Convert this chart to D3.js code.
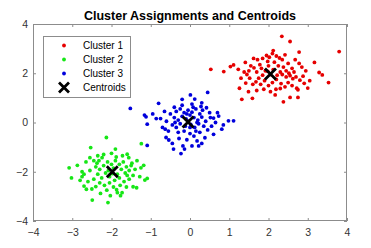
<!DOCTYPE html>
<html lang="en">
<head>
<meta charset="UTF-8">
<title>Cluster Assignments and Centroids</title>
<script src="https://d3js.org/d3.v7.min.js"></script>
<style>
    body { margin: 0; background: #fff; }
    svg { display: block; font-family: "Liberation Sans", Arial, sans-serif; }
    .axis path { display: none; }
    .axis line { stroke: #8c8c8c; }
    .axis text { font-size: 10.5px; fill: #333; }
</style>
</head>
<body>
<script>
// Points of each cluster, [x, y]
const cluster1 = [
    [2.34,3.50],[2.55,3.29],[3.80,2.88],[2.78,2.86],[3.17,2.44],[3.29,2.03],[3.37,1.93],[3.53,1.62],
    [0.53,2.16],[0.86,2.07],[1.03,2.27],[1.11,2.34],[1.23,2.16],[1.41,2.44],[1.26,1.39],[1.32,0.94],
    [1.59,0.98],[1.49,1.25],[2.38,0.84],[2.55,1.02],[2.75,1.02],[2.72,1.39],[2.75,1.33],[2.91,1.59],
    [2.17,1.12],[2.19,1.35],[1.55,2.30],[1.63,2.22],[1.70,2.05],[1.78,2.35],[1.85,2.60],[1.95,2.72],
    [2.02,2.65],[2.10,2.80],[2.20,2.70],[2.28,2.62],[2.35,2.55],[2.42,2.75],[2.50,2.40],[2.60,2.20],
    [2.65,2.05],[2.70,1.85],[2.62,1.78],[2.55,1.90],[2.45,2.10],[2.38,2.25],[2.30,2.05],[2.22,1.92],
    [2.12,2.15],[2.00,2.30],[1.92,2.10],[1.85,1.92],[1.75,1.80],[1.68,1.65],[1.60,1.55],[1.52,1.80],
    [1.45,1.95],[1.38,2.05],[1.30,1.80],[1.42,1.60],[1.80,1.55],[1.90,1.70],[2.00,1.50],[2.10,1.62],
    [2.20,1.75],[2.32,1.58],[2.42,1.45],[2.50,1.62],[2.80,1.72],[2.88,1.88],[2.95,2.10],[2.85,2.25],
    [2.78,2.40],[2.68,2.55],[2.15,2.45],[1.98,2.48],[1.72,2.55],[1.62,2.60],[2.05,1.95],[2.25,2.30],
    [1.88,1.35],[2.05,1.25],[2.30,1.38],[1.70,1.30],[2.60,1.50],[2.45,1.85],[1.50,2.10],[3.05,1.70],
    [3.00,1.40],[2.12,2.92],[1.98,2.08],[2.35,1.95],[2.52,2.00],[1.82,2.20]
];
const cluster2 = [
    [-2.13,-0.61],[-2.53,-1.02],[-1.24,-0.86],[-3.08,-1.84],[-3.02,-2.25],[-2.87,-1.74],[-2.75,-2.20],
    [-2.75,-2.00],[-2.70,-2.58],[-2.64,-2.71],[-2.49,-3.15],[-2.09,-3.25],[-2.03,-2.97],[-1.77,-2.97],
    [-1.73,-2.85],[-1.87,-2.73],[-1.45,-2.61],[-1.36,-2.65],[-1.15,-2.34],[-1.09,-2.27],[-1.18,-1.74],
    [-1.25,-1.84],[-1.60,-1.29],[-1.56,-1.43],[-1.90,-1.08],[-2.24,-1.43],[-2.32,-1.55],[-2.37,-1.65],
    [-2.55,-1.43],[-2.40,-1.80],[-2.30,-1.90],[-2.20,-1.75],[-2.10,-1.60],[-2.00,-1.70],[-1.90,-1.55],
    [-1.80,-1.70],[-1.70,-1.60],[-1.62,-1.80],[-1.55,-1.95],[-1.65,-2.05],[-1.75,-1.90],[-1.85,-2.10],
    [-1.95,-1.85],[-2.05,-2.20],[-2.15,-2.05],[-2.25,-2.25],[-2.35,-2.10],[-2.45,-2.30],[-2.55,-1.95],
    [-2.60,-2.40],[-2.30,-2.45],[-2.18,-2.55],[-2.05,-2.45],[-1.92,-2.35],[-1.80,-2.25],[-1.68,-2.40],
    [-1.55,-2.30],[-1.45,-2.15],[-1.40,-1.90],[-1.48,-1.65],[-1.35,-1.55],[-1.78,-2.55],[-1.95,-2.62],
    [-2.12,-2.75],[-2.40,-2.60],[-2.50,-2.70],[-2.20,-1.30],[-2.00,-1.25],[-1.72,-1.35],[-2.65,-1.60],
    [-2.80,-2.35],[-1.28,-2.20],[-1.62,-2.62],[-2.28,-2.88],[-1.88,-1.40],[-2.45,-1.55],[-1.50,-1.75],
    [-2.08,-1.95],[-1.98,-2.08],[-1.85,-2.85],[-2.35,-1.35],[-1.60,-2.15],[-2.70,-2.10]
];
const cluster3 = [
    [-1.52,0.57],[-1.16,0.30],[-1.12,0.23],[-0.80,0.78],[-0.20,0.94],[0.01,1.12],[0.12,0.95],[0.45,1.22],
    [-0.86,0.16],[-0.75,0.16],[-1.09,-0.07],[-0.63,-0.27],[-0.42,-1.08],[-0.23,-1.26],[-0.14,-1.08],
    [0.05,-0.95],[0.22,-0.95],[0.18,-0.75],[0.81,-0.27],[0.60,-0.48],[-0.61,-0.61],[-0.54,-0.71],
    [-1.09,-0.93],[0.98,0.07],[1.11,0.07],[0.73,0.26],[0.52,0.20],[0.60,0.18],[-0.35,0.45],[-0.25,0.55],
    [-0.15,0.40],[-0.05,0.50],[0.05,0.42],[0.15,0.55],[0.25,0.35],[0.32,0.50],[-0.40,0.20],[-0.30,0.10],
    [-0.20,0.25],[-0.10,0.15],[0.00,0.30],[0.10,0.20],[0.20,0.10],[0.30,0.22],[0.40,0.05],[-0.45,-0.10],
    [-0.35,-0.20],[-0.25,-0.05],[-0.12,-0.15],[0.02,-0.08],[0.12,-0.20],[0.22,-0.05],[0.35,-0.15],
    [0.45,-0.30],[-0.30,-0.40],[-0.15,-0.35],[0.00,-0.45],[0.10,-0.55],[0.25,-0.40],[-0.50,0.35],
    [-0.60,0.05],[-0.55,-0.35],[-0.20,0.70],[0.05,0.75],[0.30,0.80],[-0.40,0.62],[0.50,0.40],[0.65,0.00],
    [0.55,-0.15],[-0.08,-0.70],[0.38,-0.62],[-0.70,-0.20],[-0.95,0.35],[0.18,0.00],[-0.05,0.05],
    [0.08,0.62],[-0.28,-0.65],[0.70,0.40],[0.30,-0.85],[-0.45,-0.85],[0.85,-0.10],[-0.65,0.45],
    [0.28,0.65],[-0.18,-0.95],[0.00,-0.20],[-0.08,0.35],[0.42,0.60],[0.15,-0.35],[-0.38,0.00]
];
const centroids = [[2.05, 1.97], [-1.98, -2.00], [-0.05, 0.02]];

const seriesNames = ["Cluster 1", "Cluster 2", "Cluster 3", "Centroids"];
const seriesColors = ["#e60000", "#16e616", "#0000dc", "#000"];
const tickValues = [-4, -3, -2, -1, 0, 1, 2, 3, 4];
const title = "Cluster Assignments and Centroids";

const width = 371, height = 248;
const margin = { top: 24, right: 24, bottom: 27, left: 33 };

const svg = d3.select("body").append("svg")
    .attr("width", width)
    .attr("height", height);

const x = d3.scaleLinear().domain([-4, 4]).range([margin.left, width - margin.right]);
const y = d3.scaleLinear().domain([-4, 4]).range([height - margin.bottom, margin.top]);

// axes with inward ticks on all four sides
svg.append("g").attr("class", "axis")
    .attr("transform", `translate(0,${height - margin.bottom})`)
    .call(d3.axisBottom(x).tickValues(tickValues).tickSizeInner(-3).tickSizeOuter(0).tickPadding(8));
svg.append("g").attr("class", "axis")
    .attr("transform", `translate(${margin.left},0)`)
    .call(d3.axisLeft(y).tickValues([-4, -2, 0, 2, 4]).tickSizeInner(-3).tickSizeOuter(0).tickPadding(5));
svg.append("g").attr("class", "axis")
    .attr("transform", `translate(0,${margin.top})`)
    .call(d3.axisTop(x).tickValues(tickValues).tickSizeInner(-3).tickSizeOuter(0).tickFormat(""));
svg.append("g").attr("class", "axis")
    .attr("transform", `translate(${width - margin.right},0)`)
    .call(d3.axisRight(y).tickValues([-4, -2, 0, 2, 4]).tickSizeInner(-3).tickSizeOuter(0).tickFormat(""));

// plot box
svg.append("rect")
    .attr("x", margin.left + 0.5)
    .attr("y", margin.top + 0.5)
    .attr("width", width - margin.left - margin.right - 1)
    .attr("height", height - margin.top - margin.bottom - 1)
    .attr("fill", "none")
    .attr("stroke", "#8c8c8c");

// cluster points
[cluster1, cluster2, cluster3].forEach((pts, i) => {
    svg.append("g").selectAll("circle")
        .data(pts)
        .join("circle")
        .attr("cx", d => x(d[0]))
        .attr("cy", d => y(d[1]))
        .attr("r", 1.9)
        .attr("fill", seriesColors[i]);
});

// X-shaped marker
const cross = (g, cx, cy, s) => g.append("path")
    .attr("d", `M${cx - s},${cy - s}L${cx + s},${cy + s}M${cx - s},${cy + s}L${cx + s},${cy - s}`)
    .attr("stroke", "#000")
    .attr("stroke-width", 2.8)
    .attr("fill", "none");

const cg = svg.append("g");
centroids.forEach(d => cross(cg, x(d[0]), y(d[1]), 5.5));

// title
svg.append("text")
    .attr("x", 190)
    .attr("y", 20)
    .attr("text-anchor", "middle")
    .attr("font-size", 12.5)
    .attr("font-weight", "bold")
    .attr("fill", "#000")
    .text(title);

// legend
const legend = svg.append("g").attr("transform", "translate(43,36)");
legend.append("rect")
    .attr("x", 0.5).attr("y", 0.5)
    .attr("width", 87).attr("height", 61)
    .attr("fill", "#fff")
    .attr("stroke", "#8c8c8c");

seriesNames.forEach((name, i) => {
    const row = legend.append("g").attr("transform", `translate(0,${9.5 + i * 14})`);
    if (i < 3) {
        row.append("circle").attr("cx", 21).attr("cy", 0).attr("r", 1.9).attr("fill", seriesColors[i]);
    } else {
        cross(row, 21, 0, 5);
    }
    row.append("text")
        .attr("x", 40)
        .attr("y", 0)
        .attr("dy", "0.35em")
        .attr("font-size", 10)
        .attr("fill", "#000")
        .text(name);
});
</script>
</body>
</html>
